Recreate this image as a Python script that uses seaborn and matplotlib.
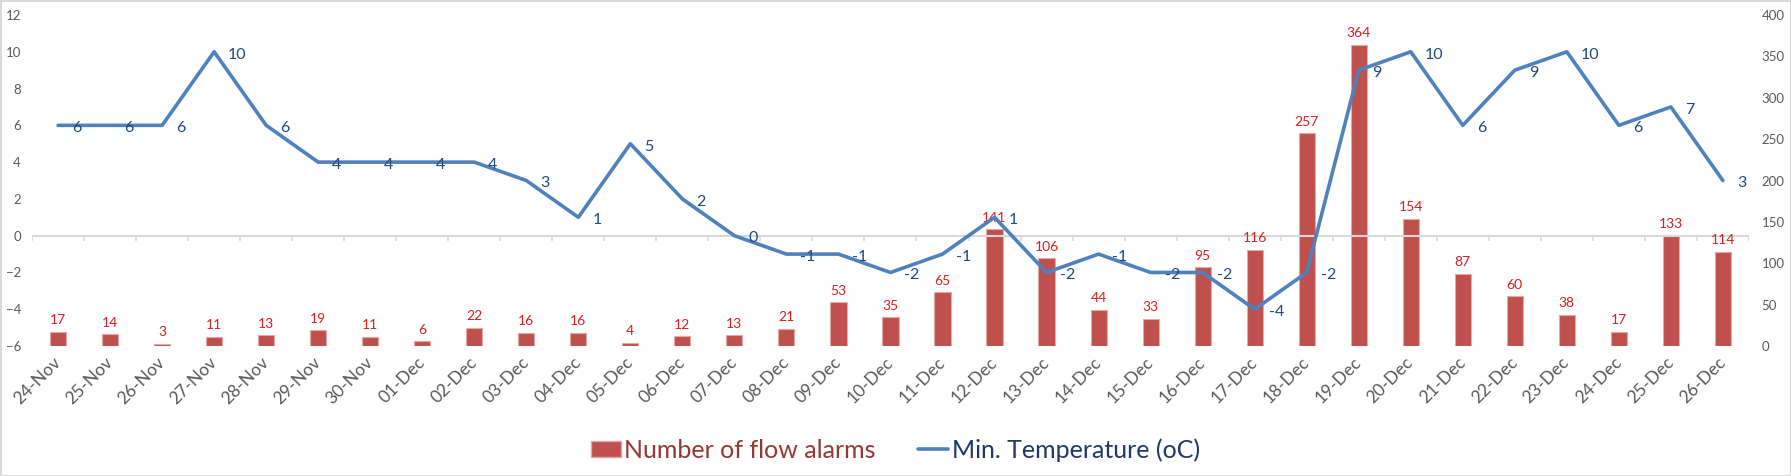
import numpy as np
import pandas as pd
import matplotlib
matplotlib.use('Agg')
import matplotlib.pyplot as plt
from matplotlib.patches import Patch
from matplotlib.lines import Line2D
import seaborn as sns

# data
dates = ['24-Nov', '25-Nov', '26-Nov', '27-Nov', '28-Nov', '29-Nov', '30-Nov',
         '01-Dec', '02-Dec', '03-Dec', '04-Dec', '05-Dec', '06-Dec', '07-Dec',
         '08-Dec', '09-Dec', '10-Dec', '11-Dec', '12-Dec', '13-Dec', '14-Dec',
         '15-Dec', '16-Dec', '17-Dec', '18-Dec', '19-Dec', '20-Dec', '21-Dec',
         '22-Dec', '23-Dec', '24-Dec', '25-Dec', '26-Dec']
alarms = [17, 14, 3, 11, 13, 19, 11, 6, 22, 16, 16, 4, 12, 13, 21, 53, 35, 65,
          141, 106, 44, 33, 95, 116, 257, 364, 154, 87, 60, 38, 17, 133, 114]
min_temp = [6, 6, 6, 10, 6, 4, 4, 4, 4, 3, 1, 5, 2, 0, -1, -1, -2, -1, 1, -2,
            -1, -2, -2, -4, -2, 9, 10, 6, 9, 10, 6, 7, 3]

temp_ticks = list(range(-6, 13, 2))
alarm_ticks = list(range(0, 401, 50))

bar_color = '#C0504D'
bar_edge = '#E6A8A6'
line_color = '#4F81BD'
grey = '#595959'
axis_grey = '#D9D9D9'

sns.set_style('white')
plt.rcParams['font.family'] = ['Lato', 'DejaVu Sans']

df = pd.DataFrame({'date': dates, 'alarms': alarms, 'temp': min_temp})
n = len(dates)

fig, ax = plt.subplots(figsize=(17.91, 4.76), dpi=100)
fig.subplots_adjust(left=0.0179, right=0.9765, bottom=0.273, top=0.9685)
ax2 = ax.twinx()

# bars on the secondary (right) axis
sns.barplot(data=df, x='date', y='alarms', ax=ax2, color=bar_color,
            saturation=1, width=0.31, edgecolor=bar_edge, linewidth=0.8)
ax2.bar_label(ax2.containers[0], labels=[str(a) for a in alarms], padding=4,
              color='#D81E1E', fontsize=10, zorder=4)

# temperature line on the primary (left) axis, drawn above the bars
ax.set_zorder(ax2.get_zorder() + 1)
ax.patch.set_visible(False)
sns.lineplot(x=np.arange(n), y=df['temp'], ax=ax, color=line_color,
             linewidth=2.6, zorder=3)
for i, t in enumerate(min_temp):
    ax.annotate(str(t), (i, t), xytext=(10, -2), textcoords='offset points',
                ha='left', va='center', color='#1F497D', fontsize=11.5,
                zorder=4)

ax.set_ylim(-6, 12)
ax2.set_ylim(0, 400)
ax.set_xlim(-0.5, n - 0.5)
ax.set_yticks(temp_ticks)
ax2.set_yticks(alarm_ticks)
ax.set_xticks(range(n), dates)
ax.set_xlabel('')
ax.set_ylabel('')
ax2.set_xlabel('')
ax2.set_ylabel('')

# category axis crossing at 0 °C, drawn between bars and bar labels
edges = np.arange(n + 1) - 0.5
ax2.plot([edges[0], edges[-1]], [0, 0], transform=ax.transData,
         color=axis_grey, lw=1.5, zorder=2)
ax2.vlines(edges, -0.3, 0, transform=ax.transData, color=axis_grey,
           lw=1.2, zorder=2)
ax2.set_ylim(0, 400)
ax.set_xlim(-0.5, n - 0.5)

for s in list(ax.spines.values()) + list(ax2.spines.values()):
    s.set_visible(False)

ax.tick_params(axis='both', length=0)
ax.tick_params(axis='y', labelsize=9.5, labelcolor=grey, pad=8)
ax2.tick_params(axis='y', length=0, labelsize=9.5, labelcolor=grey, pad=9)
ax.tick_params(axis='x', labelsize=12.5, labelcolor=grey, pad=10)
for label in ax.get_xticklabels():
    label.set_rotation(45)
    label.set_ha('right')
    label.set_va('center')
    label.set_rotation_mode('anchor')

handles = [Patch(facecolor=bar_color, edgecolor=bar_edge),
           Line2D([0], [0], color=line_color, lw=2.6)]
fig.legend(handles, ['Number of flow alarms', 'Min. Temperature (oC)'],
           loc='center', bbox_to_anchor=(0.5, 0.055), ncol=2, frameon=False,
           fontsize=18, labelcolor=['#953735', '#1F3864'], handlelength=1.2,
           handleheight=0.6, handletextpad=0.15, columnspacing=1.7)

fig.patch.set_edgecolor(axis_grey)
fig.patch.set_linewidth(1)
fig.savefig('out.png', dpi=100, edgecolor=fig.get_edgecolor())
